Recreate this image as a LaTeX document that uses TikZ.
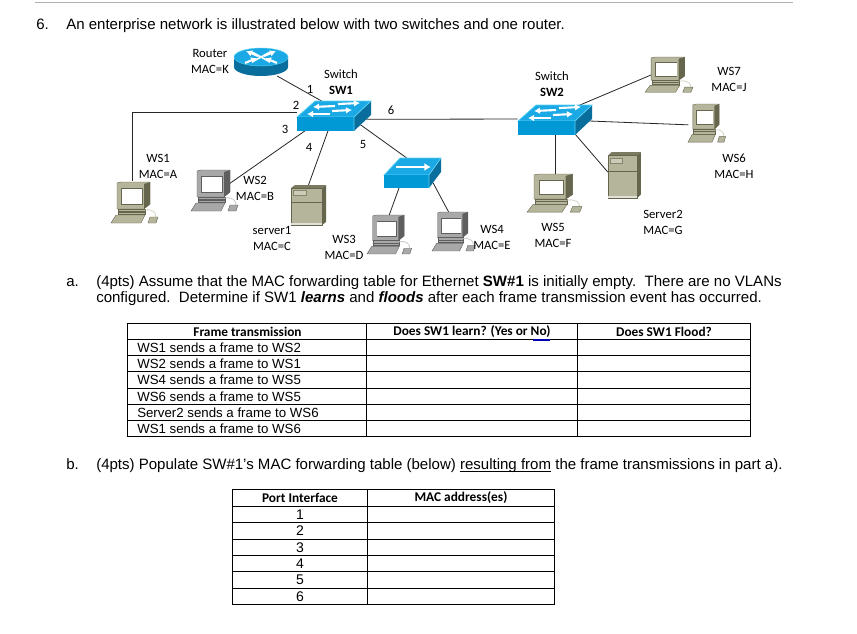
\documentclass[tikz,border=0pt]{standalone}
\usepackage{fontspec}
\setmainfont{Liberation Sans}
\newfontfamily\labelfont{Carlito}
\usetikzlibrary{arrows.meta, positioning}
\definecolor{swblue}{HTML}{0099D6}
\definecolor{swdark}{HTML}{0A6E9C}
\definecolor{swlight}{HTML}{1AA9E4}
\definecolor{swedge}{HTML}{5CD3F7}
\definecolor{wsbeige}{HTML}{B5B59B}
\definecolor{wsedge}{HTML}{66664E}
\definecolor{wsgray}{HTML}{A8A8A8}
\definecolor{wsgrayedge}{HTML}{5E5E5E}
\tikzstyle{devlabel} = [font=\labelfont\fontsize{9.5}{12}\selectfont, inner sep=0pt, align=center]
\tikzstyle{bodytext} = [font=\fontsize{11.27}{13}\selectfont, inner sep=0pt, anchor=base west]
\tikzstyle{cell} = [font=\fontsize{9.95}{12}\selectfont, inner sep=0pt, anchor=base west]
\tikzstyle{portcell} = [font=\fontsize{10.5}{12}\selectfont, inner sep=0pt, anchor=base]
\tikzstyle{headcell} = [font=\labelfont\bfseries\fontsize{10}{12}\selectfont, inner sep=0pt]
\tikzstyle{device} = [rectangle, inner sep=0pt, outer sep=0pt]
\tikzstyle{link} = [draw=black!85, line width=0.6pt]
\tikzstyle{grid} = [draw=black, line width=0.6pt]
\tikzstyle{flow} = [-{Latex[length=4.5pt, width=5pt]}, white, line width=1.6pt]
\newcommand{\wsdrawing}[2]{
  \fill[#1, draw=#2, line width=0.3pt] (6,1) -- (10,0) -- (39,0) -- (39,22) -- (33,27) -- (6,27) -- cycle;
  \fill[#2] (33,2) -- (39,0) -- (39,22) -- (33,27) -- cycle;
  \fill[#2] (10,6) rectangle (31.5,23);
  \fill[white] (11,7) rectangle (31,22);
  \fill[#1, draw=#2, line width=0.3pt] (7,27) -- (34,27) -- (34,32) -- (7,32) -- cycle;
  \fill[#2] (7,29) rectangle (34,30.5);
  \fill[#1, draw=#2, line width=0.3pt] (5,33) -- (34,33) -- (30,41) -- (0,41) -- cycle;
  \draw[#1!60!white, line width=0.6pt] (34,28) .. controls (41,27) and (45,30) .. (45,35);
  \fill[#1, draw=#2, line width=0.3pt] (39,35) -- (47,35) -- (45,41) -- (37,41) -- cycle;
}
\tikzset{
  beigews/.pic={\wsdrawing{wsbeige}{wsedge}},
  grayws/.pic={\wsdrawing{wsgray}{wsgrayedge}},
  serverpic/.pic={
    \fill[wsedge!75!wsbeige] (0,3) -- (4,0) -- (35,0) -- (31,3) -- cycle;
    \fill[wsedge] (31,3) -- (35,0) -- (35,37) -- (31,40) -- cycle;
    \fill[wsbeige, draw=wsedge, line width=0.3pt] (0,3) rectangle (31,40);
    \draw[wsedge, line width=0.5pt] (0,17) -- (31,17);
    \fill[wsbeige!70!white, draw=wsedge!60!wsbeige, line width=0.3pt] (2,5) rectangle (15,10);
    \fill[wsbeige!40!white] (0.3,38) rectangle (30.7,39.7);
  },
  swpic/.pic={
    \fill[swlight, draw=swedge, line width=0.5pt] (0,0) -- (18,-16) -- (74,-16) -- (57,0) -- cycle;
    \fill[swblue] (0,0) rectangle (57,14);
    \fill[swdark] (57,0) -- (74,-16) -- (74,-2) -- (57,14) -- cycle;
    \draw[swedge, line width=0.5pt] (57,14) -- (57,0) -- (74,-16);
    \draw[flow] (41,-13) -- (63,-14);
    \draw[flow] (38,-11) -- (16,-10);
    \draw[flow] (35,-6) -- (55,-7);
    \draw[flow] (33,-3) -- (10,-3);
  },
  hubpic/.pic={
    \fill[swlight, draw=swedge, line width=0.5pt] (0,0) -- (16,-17) -- (57,-17) -- (45,0) -- cycle;
    \fill[swblue] (0,0) rectangle (45,13);
    \fill[swdark] (45,0) -- (57,-17) -- (57,-3) -- (45,13) -- cycle;
    \draw[swedge, line width=0.5pt] (45,13) -- (45,0) -- (57,-17);
    \draw[-{Latex[length=5pt, width=6pt]}, white, line width=1.8pt] (12,-8) -- (47,-8);
  },
  routerpic/.pic={
    \fill[swdark] (-27,0) -- (-27,10) arc[start angle=180, end angle=360, x radius=27, y radius=-9] -- (27,0) -- cycle;
    \fill[swlight, draw=swedge, line width=0.3pt] (0,0) ellipse[x radius=27, y radius=9];
    \draw[flow] (-3,-1) -- (-15,-6);
    \draw[flow] (3,-1) -- (15,-6);
    \draw[flow] (-16,6) -- (-4,1);
    \draw[flow] (16,6) -- (4,1);
    \draw[white, line width=1.2pt] (-9,-5) -- (9,5) (-9,5) -- (9,-5);
  },
}

\begin{document}
\begin{tikzpicture}[x=0.75pt, y=-0.75pt]

\useasboundingbox (0,0) rectangle (857,633);
\fill[white] (0,0) rectangle (857,633);
\draw[gray!60, line width=0.6pt] (35,2) -- (793,2);

\node[bodytext] (qnum) at (36,29) {6.};
\node[bodytext] (qtext) at (66,29) {An enterprise network is illustrated below with two switches and one router.};

% devices
\node[device, minimum width=41pt, minimum height=21pt] (router) at (261,62) {};
\node[device, minimum width=56pt, minimum height=22pt] (sw1) at (334,116) {};
\node[device, minimum width=56pt, minimum height=19.5pt] (sw2) at (555,121) {};
\node[device, minimum width=43pt, minimum height=22.5pt] (hub) at (412.5,173) {};
\node[device, minimum width=34pt, minimum height=31pt] (ws1) at (132,202) {};
\node[device, minimum width=24pt, minimum height=20pt] (ws2) at (213,184) {};
\node[device, minimum width=26pt, minimum height=30pt] (server1) at (308.5,205) {};
\node[device, minimum width=24pt, minimum height=20pt] (ws3) at (389,229) {};
\node[device, minimum width=24pt, minimum height=20pt] (ws4) at (449,226) {};
\node[device, minimum width=30pt, minimum height=20pt] (ws5) at (555,188) {};
\node[device, minimum width=25pt, minimum height=34pt] (server2) at (624.5,175) {};
\node[device, minimum width=22pt, minimum height=20pt] (ws6) at (703,118) {};
\node[device, minimum width=24pt, minimum height=21pt] (ws7) at (667,71) {};

% connectors
\draw[link] (router.319) -- (sw1.129);
\draw[link] (sw1.175) -| (ws1.north);
\draw[link] (sw1.207) -- (ws2.east);
\draw[link] (sw1.248) -- (server1.north);
\draw[link] ([shift={(-11,-6)}]sw1.south east) -- (hub.111);
\draw[link] ([shift={(-5,0)}]sw1.355) -- (sw2.177);
\draw[link] (hub.228) -- (ws3.north);
\draw[link] ([shift={(-8,-5)}]hub.south east) -- (ws4.north);
\draw[link] (sw2.36) -- (ws7.194);
\draw[link] ([shift={(-3,0)}]sw2.east) -- (ws6.205);
\draw[link] (sw2.south) -- (ws5.north);
\draw[link] (sw2.327) -- (server2.170);

% icons
\pic at (261,57) {routerpic};
\pic at (297,117) {swpic};
\pic at (518,121) {swpic};
\pic at (384,175) {hubpic};
\pic at (111,182) {beigews};
\pic at (191,170) {grayws};
\pic at (291,185) {serverpic};
\pic[xscale=0.95, yscale=0.95] at (367,215) {grayws};
\pic[xscale=0.92, yscale=0.95] at (432,212) {grayws};
\pic[xscale=1.17, yscale=0.93] at (527,174) {beigews};
\pic[xscale=0.94, yscale=1.15] at (608,152) {serverpic};
\pic[xscale=0.8, yscale=0.93] at (688,104) {beigews};
\pic[xscale=1.02, yscale=0.86] at (645,57) {beigews};

% labels
\node[devlabel] (routerlab) at (210,61) {Router\\MAC=K};
\node[devlabel] (sw1lab) at (341,82) {Switch\\\textbf{SW1}};
\node[devlabel] (sw2lab) at (552,84) {Switch\\\textbf{SW2}};
\node[devlabel] (ws1lab) at (158,166) {WS1\\MAC=A};
\node[devlabel] (ws2lab) at (255,188) {WS2\\MAC=B};
\node[devlabel] (server1lab) at (272,238) {server1\\MAC=C};
\node[devlabel] (ws3lab) at (344,247) {WS3\\MAC=D};
\node[devlabel] (ws4lab) at (492,237) {WS4\\MAC=E};
\node[devlabel] (ws5lab) at (553,235) {WS5\\MAC=F};
\node[devlabel] (server2lab) at (663,222) {Server2\\MAC=G};
\node[devlabel] (ws6lab) at (734,166) {WS6\\MAC=H};
\node[devlabel] (ws7lab) at (729,79) {WS7\\MAC=J};
\node[devlabel] (port1) at (310,89) {1};
\node[devlabel] (port2) at (296,105) {2};
\node[devlabel] (port3) at (285,129) {3};
\node[devlabel] (port4) at (309,147) {4};
\node[devlabel] (port5) at (363,144) {5};
\node[devlabel] (port6) at (391,110) {6};

% part a
\node[bodytext] (anum) at (66,286) {a.};
\node[bodytext] (aline1) at (96,286) {(4pts) Assume that the MAC forwarding table for Ethernet \textbf{SW\#1} is initially empty.\ \ There are no VLANs};
\node[bodytext] (aline2) at (96,302) {configured.\ \ Determine if SW1 \textbf{\textit{learns}} and \textbf{\textit{floods}} after each frame transmission event has occurred.};

\draw[grid] (127,323) rectangle (750,436);
\draw[grid] (366,323) -- (366,436);
\draw[grid] (577,323) -- (577,436);
\draw[grid] (127,339) -- (750,339);
\draw[grid] (127,355) -- (750,355);
\draw[grid] (127,371) -- (750,371);
\draw[grid] (127,388) -- (750,388);
\draw[grid] (127,404) -- (750,404);
\draw[grid] (127,420) -- (750,420);
\draw[blue!70!black, line width=0.8pt] (533,340) -- (550,340);

\node[headcell] (framehead) at (247.5,332) {Frame transmission};
\node[headcell] (learnhead) at (472,332) {Does SW1 learn? (Yes or No)};
\node[headcell] (floodhead) at (664,332) {Does SW1 Flood?};
\node[cell] (row1) at (137,352) {WS1 sends a frame to WS2};
\node[cell] (row2) at (137,368) {WS2 sends a frame to WS1};
\node[cell] (row3) at (137,384) {WS4 sends a frame to WS5};
\node[cell] (row4) at (137,401) {WS6 sends a frame to WS5};
\node[cell] (row5) at (137,417) {Server2 sends a frame to WS6};
\node[cell] (row6) at (137,433) {WS1 sends a frame to WS6};

% part b
\node[bodytext] (bnum) at (66,469) {b.};
\node[bodytext] (bline) at (96,469) {(4pts) Populate SW\#1's MAC forwarding table (below) \underline{\smash{resulting from}} the frame transmissions in part a).};

\draw[grid] (232,489) rectangle (554,604);
\draw[grid] (367,489) -- (367,604);
\draw[grid] (232,506) -- (554,506);
\draw[grid] (232,522) -- (554,522);
\draw[grid] (232,539) -- (554,539);
\draw[grid] (232,555) -- (554,555);
\draw[grid] (232,571) -- (554,571);
\draw[grid] (232,588) -- (554,588);

\node[headcell] (porthead) at (300,498) {Port Interface};
\node[headcell] (machead) at (461,498) {MAC address(es)};
\node[portcell] (if1) at (300,519) {1};
\node[portcell] (if2) at (300,535) {2};
\node[portcell] (if3) at (300,552) {3};
\node[portcell] (if4) at (300,568) {4};
\node[portcell] (if5) at (300,584) {5};
\node[portcell] (if6) at (300,601) {6};

\end{tikzpicture}
\end{document}
